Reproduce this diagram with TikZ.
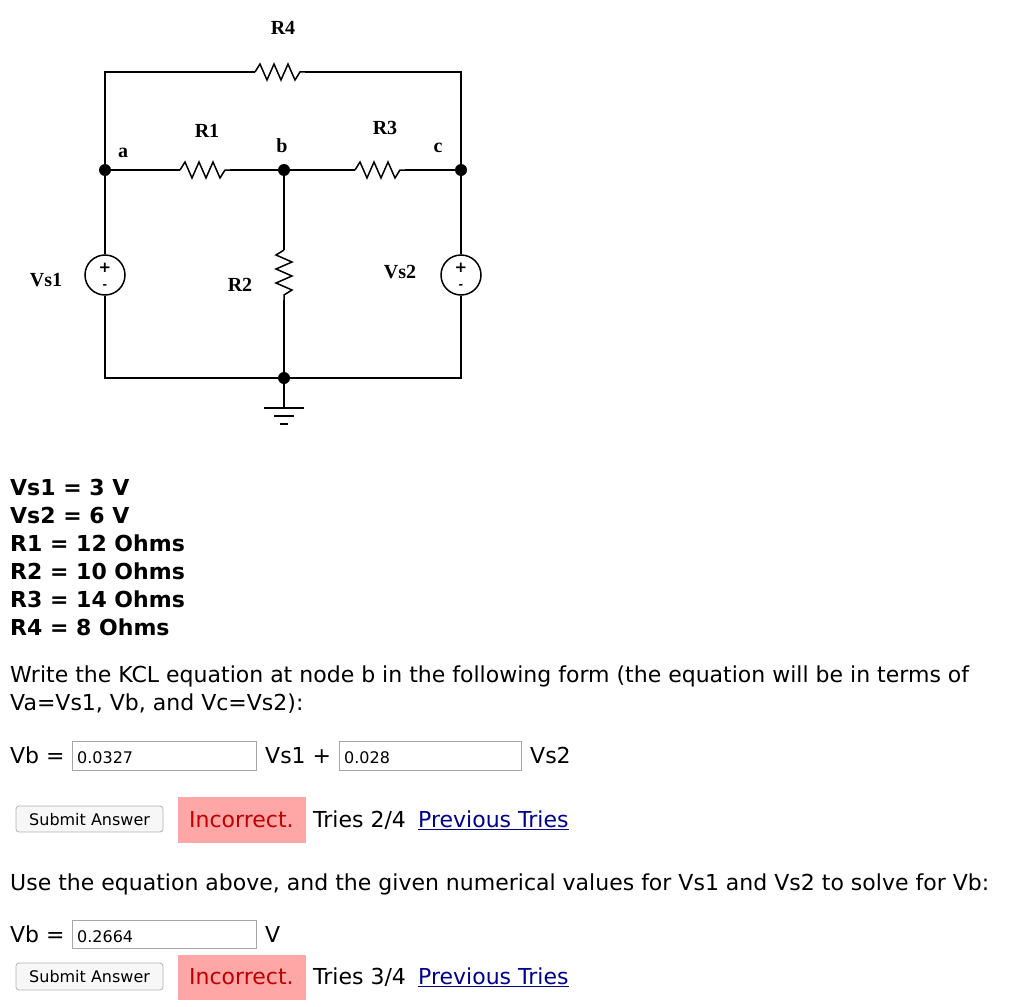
\documentclass[tikz,border=0pt]{standalone}
\usepackage{fontspec}
\setmainfont{DejaVu Sans}
\newfontfamily\circfont{Liberation Serif}
\begin{document}
\begin{tikzpicture}[x=1pt,y=-1pt,
  wire/.style={line width=2pt},
  dot/.style={circle,fill=black,inner sep=0,minimum size=12pt},
  clab/.style={font=\circfont\bfseries\fontsize{20}{20}\selectfont,inner sep=0},
  txt/.style={anchor=base west,inner sep=0,font=\fontsize{22}{22}\selectfont},
  btxt/.style={anchor=base west,inner sep=0,font=\bfseries\fontsize{22}{22}\selectfont},
  field/.style={draw=black!35,line width=0.8pt,anchor=north west,inner sep=0},
  ftxt/.style={anchor=base west,inner sep=0,font=\fontsize{16}{16}\selectfont},
  btn/.style={draw=black!30,rounded corners=3pt,fill=black!3,line width=0.8pt},
  bad/.style={fill=red!35!white,draw=none},
  pics/hres/.style={code={\draw[line width=1.5pt] (-25,0)--(-20,-8)--(-13,8)--(-6,-8)--(1,8)--(8,-8)--(15,8)--(20,0)--(25,0);}},
  pics/vres/.style={code={\draw[line width=1.5pt] (0,-25)--(-8,-20)--(8,-13)--(-8,-6)--(8,1)--(-8,8)--(8,15)--(0,20)--(0,25);}},
]
\useasboundingbox (0,0) rectangle (1024,1006);
% nodes
\node[dot] (a) at (105,170) {};
\node[dot] (b) at (284,170) {};
\node[dot] (c) at (461,170) {};
\node[dot] (g) at (284,378) {};
\coordinate (tl) at (105,72); \coordinate (tr) at (461,72);
\coordinate (bl) at (105,378); \coordinate (br) at (461,378);
\node[draw,circle,line width=1.5pt,minimum size=40pt,inner sep=0] (vs1) at (105,275) {};
\node[draw,circle,line width=1.5pt,minimum size=40pt,inner sep=0] (vs2) at (461,275) {};
\node[font=\bfseries\fontsize{15}{15}\selectfont] at (105,268) {+};
\node[font=\bfseries\fontsize{11}{11}\selectfont] at (105,287) {-};
\node[font=\bfseries\fontsize{15}{15}\selectfont] at (461,268) {+};
\node[font=\bfseries\fontsize{11}{11}\selectfont] at (461,287) {-};
% wires
\coordinate (r4l) at (255,72); \coordinate (r4r) at (305,72);
\coordinate (r1l) at (180,170); \coordinate (r1r) at (230,170);
\coordinate (r3l) at (355,170); \coordinate (r3r) at (405,170);
\coordinate (r2t) at (284,250); \coordinate (r2b) at (284,300);
\draw[wire] (a)--(tl)--(r4l); \draw[wire] (r4r)--(tr)--(c);
\draw[wire] (a)--(r1l); \draw[wire] (r1r)--(b)--(r3l); \draw[wire] (r3r)--(c);
\draw[wire] (a)--(vs1)--(bl)--(g)--(br)--(vs2)--(c);
\draw[wire] (b)--(r2t); \draw[wire] (r2b)--(g);
\pic at (280,72) {hres}; \pic at (205,170) {hres}; \pic at (380,170) {hres};
\pic at (284,275) {vres};
% ground
\coordinate (gt) at (284,408);
\draw[wire] (g)--(gt);
\draw[wire] (264,408)--(304,408); \draw[wire] (274,416)--(294,416); \draw[wire] (280,424)--(288,424);
% labels
\node[clab] at (283,28) {R4};
\node[clab] at (207,131) {R1};
\node[clab] at (282,146) {b};
\node[clab] at (385,128) {R3};
\node[clab] at (438,148) {c};
\node[clab] at (123,153) {a};
\node[clab] at (46,280) {Vs1};
\node[clab] at (240,285) {R2};
\node[clab] at (400,272) {Vs2};
% values
\node[btxt] at (10,495) {Vs1 = 3 V};
\node[btxt] at (10,523) {Vs2 = 6 V};
\node[btxt] at (10,551) {R1 = 12 Ohms};
\node[btxt] at (10,579) {R2 = 10 Ohms};
\node[btxt] at (10,607) {R3 = 14 Ohms};
\node[btxt] at (10,635) {R4 = 8 Ohms};
\node[txt] at (10,682) {Write the KCL equation at node b in the following form (the equation will be in terms of};
\node[txt] at (10,710) {Va=Vs1, Vb, and Vc=Vs2):};
\node[txt] at (10,763) {Vb =};
\node[field,minimum width=184pt,minimum height=29pt] (f1) at (72,741) {};
\node[ftxt] at (77,763) {0.0327};
\node[txt] at (265,763) {Vs1 +};
\node[field,minimum width=182pt,minimum height=29pt] (f2) at (339,741) {};
\node[ftxt] at (344,763) {0.028};
\node[txt] at (530,763) {Vs2};
\draw[btn] (16,806) rectangle (163,832);
\node[ftxt] at (29,825) {Submit Answer};
\fill[bad] (178,797) rectangle (306,843);
\node[txt,text=red!75!black] at (189,827) {Incorrect.};
\node[txt] at (313,827) {Tries 2/4};
\node[txt,text=blue!55!black] (p1) at (418,827) {\underline{Previous Tries}};
\node[txt] at (10,890) {Use the equation above, and the given numerical values for Vs1 and Vs2 to solve for Vb:};
\node[txt] at (10,942) {Vb =};
\node[field,minimum width=184pt,minimum height=28pt] (f3) at (72,920) {};
\node[ftxt] at (77,942) {0.2664};
\node[txt] at (265,942) {V};
\draw[btn] (16,963) rectangle (163,990);
\node[ftxt] at (29,982) {Submit Answer};
\fill[bad] (178,955) rectangle (306,1000);
\node[txt,text=red!75!black] at (189,984) {Incorrect.};
\node[txt] at (313,984) {Tries 3/4};
\node[txt,text=blue!55!black] (p2) at (418,984) {\underline{Previous Tries}};
\end{tikzpicture}
\end{document}
